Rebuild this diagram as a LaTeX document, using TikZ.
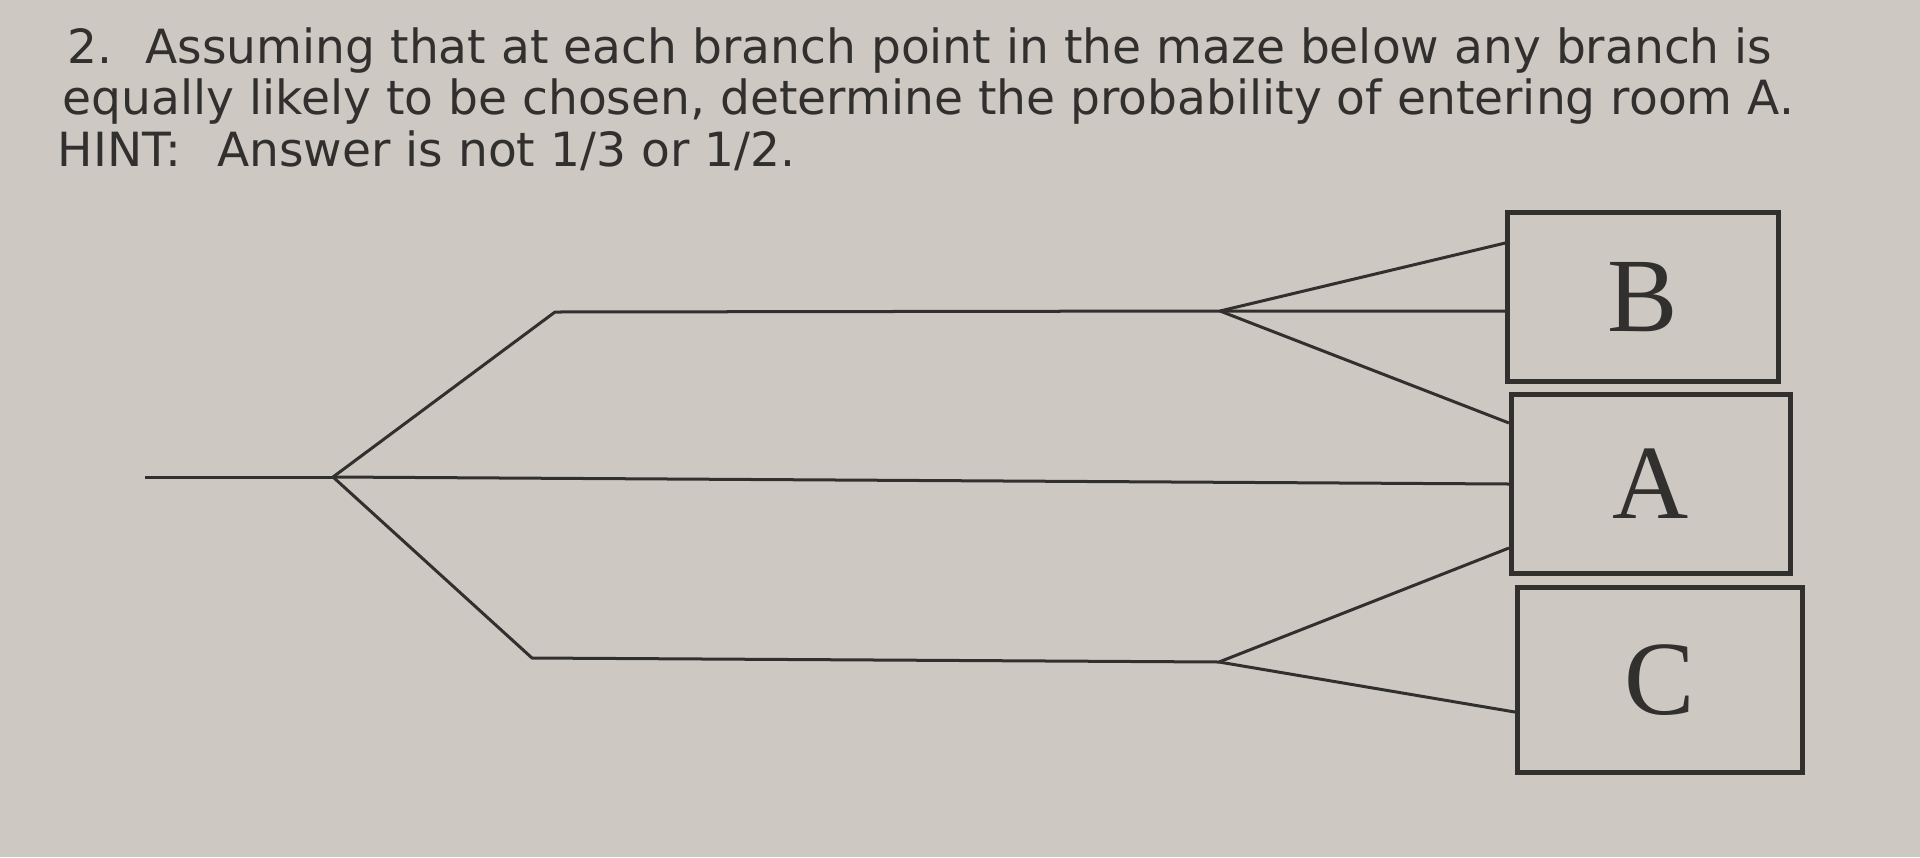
\documentclass[tikz,border=0pt]{standalone}
\usepackage{fontspec}
\setmainfont{DejaVu Sans}
\newfontfamily\roomfont{Liberation Serif}
\usetikzlibrary{positioning}
\definecolor{paper}{RGB}{205,201,194}
\definecolor{ink}{RGB}{50,48,47}

\begin{document}
\begin{tikzpicture}[
  x=0.01cm, y=-0.01cm,
  room/.style={draw=ink, line width=0.05cm, rectangle, inner sep=0pt, text=ink,
    font=\roomfont\fontsize{30}{30}\selectfont},
  mazeline/.style={draw=ink, line width=0.03cm, line join=round},
  question/.style={anchor=base west, inner sep=0pt, text=ink,
    font=\fontsize{13.4}{16}\selectfont}
]

\fill[paper] (0,0) rectangle (1920,857);
\useasboundingbox (0,0) rectangle (1920,857);

% --- Question text ---
\node[question] (q1) at (67,63)  {2.\hspace{0.7em}Assuming that at each branch point in the maze below any branch is};
\node[question] (q2) at (62,114) {equally likely to be chosen, determine the probability of entering room A.};
\node[question] (q3) at (57,166) {HINT:\hspace{0.75em}Answer is not 1/3 or 1/2.};

% --- Rooms ---
\node[room, minimum width=2.70cm, minimum height=1.69cm] (B) at (1643,297) {B};
\node[room, minimum width=2.79cm, minimum height=1.78cm] (A) at (1651,484) {A};
\node[room, minimum width=2.85cm, minimum height=1.85cm] (C) at (1660,680) {C};

% --- Branch points ---
\coordinate (start)   at (145,477);
\coordinate (fork)    at (333,477);
\coordinate (topbend) at (555,312);
\coordinate (botbend) at (532,658);
\coordinate (topfork) at (1220,311);
\coordinate (botfork) at (1219,662);

% --- Maze paths ---
\draw[mazeline] (start) -- (fork);
\draw[mazeline] (fork) -- (topbend) -- (topfork);
\draw[mazeline] (fork) -- (A.west);
\draw[mazeline] (fork) -- (botbend) -- (botfork);

% upper fork to B and A
\draw[mazeline] (topfork) -- ([yshift=0.54cm]B.west);
\draw[mazeline] (topfork) -- ([yshift=-0.14cm]B.west);
\draw[mazeline] (topfork) -- ([yshift=0.61cm]A.west);

% lower fork to A and C
\draw[mazeline] (botfork) -- ([yshift=-0.64cm]A.west);
\draw[mazeline] (botfork) -- ([yshift=-0.32cm]C.west);

\end{tikzpicture}
\end{document}
